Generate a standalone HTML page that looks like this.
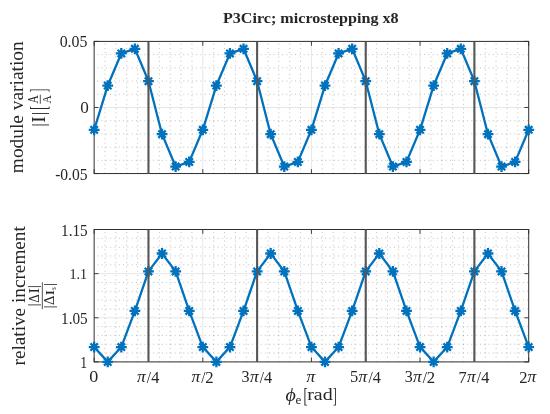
<!DOCTYPE html>
<html><head><meta charset="utf-8"><title>P3Circ; microstepping x8</title>
<style>html,body{margin:0;padding:0;background:#fff}svg{display:block}text{font-family:"Liberation Serif",serif;fill:#262626}.i{font-style:italic}</style></head><body>
<svg width="550" height="414" viewBox="0 0 550 414">
<rect width="550" height="414" fill="#fff"/>
<path d="M105.01 173.65V41.4M115.88 173.65V41.4M126.74 173.65V41.4M137.61 173.65V41.4M159.33 173.65V41.4M170.2 173.65V41.4M181.06 173.65V41.4M191.92 173.65V41.4M213.65 173.65V41.4M224.52 173.65V41.4M235.38 173.65V41.4M246.24 173.65V41.4M267.97 173.65V41.4M278.83 173.65V41.4M289.7 173.65V41.4M300.56 173.65V41.4M322.29 173.65V41.4M333.15 173.65V41.4M344.02 173.65V41.4M354.88 173.65V41.4M376.61 173.65V41.4M387.47 173.65V41.4M398.34 173.65V41.4M409.2 173.65V41.4M430.93 173.65V41.4M441.79 173.65V41.4M452.65 173.65V41.4M463.52 173.65V41.4M485.25 173.65V41.4M496.11 173.65V41.4M506.97 173.65V41.4M517.84 173.65V41.4M97.25 54.61H528.7M97.25 67.83H528.7M97.25 81.05H528.7M97.25 94.26H528.7M97.25 120.69H528.7M97.25 133.91H528.7M97.25 147.12H528.7M97.25 160.34H528.7" stroke="#262626" stroke-opacity="0.36" stroke-width="0.8" stroke-dasharray="1 3.3" fill="none"/>
<path d="M148.47 41.4V173.55M202.79 41.4V173.55M257.11 41.4V173.55M311.43 41.4V173.55M365.74 41.4V173.55M420.06 41.4V173.55M474.38 41.4V173.55M94.15 107.47H528.7" stroke="#262626" stroke-opacity="0.15" stroke-width="0.75" fill="none"/>
<path d="M94.15 173.55v-4.35M94.15 41.4v4.35M148.47 173.55v-4.35M148.47 41.4v4.35M202.79 173.55v-4.35M202.79 41.4v4.35M257.11 173.55v-4.35M257.11 41.4v4.35M311.43 173.55v-4.35M311.43 41.4v4.35M365.74 173.55v-4.35M365.74 41.4v4.35M420.06 173.55v-4.35M420.06 41.4v4.35M474.38 173.55v-4.35M474.38 41.4v4.35M528.7 173.55v-4.35M528.7 41.4v4.35M94.15 107.47h4.35M528.7 107.47h-4.35M94.15 41.4h4.35M528.7 41.4h-4.35M94.15 173.55h4.35M528.7 173.55h-4.35" stroke="#2e2e2e" stroke-width="0.9" fill="none"/>
<rect x="94.15" y="41.4" width="434.55" height="132.15" fill="none" stroke="#2e2e2e" stroke-width="1"/>
<polyline points="94.15,129.81 107.73,85.54 121.31,53.43 134.89,48.8 148.47,81.18 162.05,134.17 175.63,166.55 189.21,161.92 202.79,129.81 216.37,85.54 229.95,53.43 243.53,48.8 257.11,81.18 270.69,134.17 284.27,166.55 297.85,161.92 311.43,129.81 325,85.54 338.58,53.43 352.16,48.8 365.74,81.18 379.32,134.17 392.9,166.55 406.48,161.92 420.06,129.81 433.64,85.54 447.22,53.43 460.8,48.8 474.38,81.18 487.96,134.17 501.54,166.55 515.12,161.92 528.7,129.81" fill="none" stroke="#0072BD" stroke-width="2.3" stroke-linejoin="round"/>
<path d="M88.75 129.81h10.8M94.15 124.41v10.8M90.45 126.11l7.4 7.4M90.45 133.51l7.4 -7.4M102.33 85.54h10.8M107.73 80.14v10.8M104.03 81.84l7.4 7.4M104.03 89.24l7.4 -7.4M115.91 53.43h10.8M121.31 48.03v10.8M117.61 49.73l7.4 7.4M117.61 57.13l7.4 -7.4M129.49 48.8h10.8M134.89 43.4v10.8M131.19 45.1l7.4 7.4M131.19 52.5l7.4 -7.4M143.07 81.18h10.8M148.47 75.78v10.8M144.77 77.48l7.4 7.4M144.77 84.88l7.4 -7.4M156.65 134.17h10.8M162.05 128.77v10.8M158.35 130.47l7.4 7.4M158.35 137.87l7.4 -7.4M170.23 166.55h10.8M175.63 161.15v10.8M171.93 162.85l7.4 7.4M171.93 170.25l7.4 -7.4M183.81 161.92h10.8M189.21 156.52v10.8M185.51 158.22l7.4 7.4M185.51 165.62l7.4 -7.4M197.39 129.81h10.8M202.79 124.41v10.8M199.09 126.11l7.4 7.4M199.09 133.51l7.4 -7.4M210.97 85.54h10.8M216.37 80.14v10.8M212.67 81.84l7.4 7.4M212.67 89.24l7.4 -7.4M224.55 53.43h10.8M229.95 48.03v10.8M226.25 49.73l7.4 7.4M226.25 57.13l7.4 -7.4M238.13 48.8h10.8M243.53 43.4v10.8M239.83 45.1l7.4 7.4M239.83 52.5l7.4 -7.4M251.71 81.18h10.8M257.11 75.78v10.8M253.41 77.48l7.4 7.4M253.41 84.88l7.4 -7.4M265.29 134.17h10.8M270.69 128.77v10.8M266.99 130.47l7.4 7.4M266.99 137.87l7.4 -7.4M278.87 166.55h10.8M284.27 161.15v10.8M280.57 162.85l7.4 7.4M280.57 170.25l7.4 -7.4M292.45 161.92h10.8M297.85 156.52v10.8M294.15 158.22l7.4 7.4M294.15 165.62l7.4 -7.4M306.03 129.81h10.8M311.43 124.41v10.8M307.73 126.11l7.4 7.4M307.73 133.51l7.4 -7.4M319.6 85.54h10.8M325 80.14v10.8M321.3 81.84l7.4 7.4M321.3 89.24l7.4 -7.4M333.18 53.43h10.8M338.58 48.03v10.8M334.88 49.73l7.4 7.4M334.88 57.13l7.4 -7.4M346.76 48.8h10.8M352.16 43.4v10.8M348.46 45.1l7.4 7.4M348.46 52.5l7.4 -7.4M360.34 81.18h10.8M365.74 75.78v10.8M362.04 77.48l7.4 7.4M362.04 84.88l7.4 -7.4M373.92 134.17h10.8M379.32 128.77v10.8M375.62 130.47l7.4 7.4M375.62 137.87l7.4 -7.4M387.5 166.55h10.8M392.9 161.15v10.8M389.2 162.85l7.4 7.4M389.2 170.25l7.4 -7.4M401.08 161.92h10.8M406.48 156.52v10.8M402.78 158.22l7.4 7.4M402.78 165.62l7.4 -7.4M414.66 129.81h10.8M420.06 124.41v10.8M416.36 126.11l7.4 7.4M416.36 133.51l7.4 -7.4M428.24 85.54h10.8M433.64 80.14v10.8M429.94 81.84l7.4 7.4M429.94 89.24l7.4 -7.4M441.82 53.43h10.8M447.22 48.03v10.8M443.52 49.73l7.4 7.4M443.52 57.13l7.4 -7.4M455.4 48.8h10.8M460.8 43.4v10.8M457.1 45.1l7.4 7.4M457.1 52.5l7.4 -7.4M468.98 81.18h10.8M474.38 75.78v10.8M470.68 77.48l7.4 7.4M470.68 84.88l7.4 -7.4M482.56 134.17h10.8M487.96 128.77v10.8M484.26 130.47l7.4 7.4M484.26 137.87l7.4 -7.4M496.14 166.55h10.8M501.54 161.15v10.8M497.84 162.85l7.4 7.4M497.84 170.25l7.4 -7.4M509.72 161.92h10.8M515.12 156.52v10.8M511.42 158.22l7.4 7.4M511.42 165.62l7.4 -7.4M523.3 129.81h10.8M528.7 124.41v10.8M525 126.11l7.4 7.4M525 133.51l7.4 -7.4" fill="none" stroke="#0072BD" stroke-width="2.3"/>
<path d="M148.47 41.4V173.55M257.11 41.4V173.55M365.74 41.4V173.55M474.38 41.4V173.55" stroke="#575757" stroke-width="2.1" fill="none"/>
<path d="M105.01 362V229.5M115.88 362V229.5M126.74 362V229.5M137.61 362V229.5M159.33 362V229.5M170.2 362V229.5M181.06 362V229.5M191.92 362V229.5M213.65 362V229.5M224.52 362V229.5M235.38 362V229.5M246.24 362V229.5M267.97 362V229.5M278.83 362V229.5M289.7 362V229.5M300.56 362V229.5M322.29 362V229.5M333.15 362V229.5M344.02 362V229.5M354.88 362V229.5M376.61 362V229.5M387.47 362V229.5M398.34 362V229.5M409.2 362V229.5M430.93 362V229.5M441.79 362V229.5M452.65 362V229.5M463.52 362V229.5M485.25 362V229.5M496.11 362V229.5M506.97 362V229.5M517.84 362V229.5M97.25 238.33H528.7M97.25 247.15H528.7M97.25 255.98H528.7M97.25 264.81H528.7M97.25 282.46H528.7M97.25 291.29H528.7M97.25 300.11H528.7M97.25 308.94H528.7M97.25 326.59H528.7M97.25 335.42H528.7M97.25 344.25H528.7M97.25 353.07H528.7" stroke="#262626" stroke-opacity="0.36" stroke-width="0.8" stroke-dasharray="1 3.3" fill="none"/>
<path d="M148.47 229.5V361.9M202.79 229.5V361.9M257.11 229.5V361.9M311.43 229.5V361.9M365.74 229.5V361.9M420.06 229.5V361.9M474.38 229.5V361.9M94.15 273.63H528.7M94.15 317.77H528.7" stroke="#262626" stroke-opacity="0.15" stroke-width="0.75" fill="none"/>
<path d="M94.15 361.9v-4.35M94.15 229.5v4.35M148.47 361.9v-4.35M148.47 229.5v4.35M202.79 361.9v-4.35M202.79 229.5v4.35M257.11 361.9v-4.35M257.11 229.5v4.35M311.43 361.9v-4.35M311.43 229.5v4.35M365.74 361.9v-4.35M365.74 229.5v4.35M420.06 361.9v-4.35M420.06 229.5v4.35M474.38 361.9v-4.35M474.38 229.5v4.35M528.7 361.9v-4.35M528.7 229.5v4.35M94.15 273.63h4.35M528.7 273.63h-4.35M94.15 317.77h4.35M528.7 317.77h-4.35M94.15 229.5h4.35M528.7 229.5h-4.35M94.15 361.9h4.35M528.7 361.9h-4.35" stroke="#2e2e2e" stroke-width="0.9" fill="none"/>
<rect x="94.15" y="229.5" width="434.55" height="132.4" fill="none" stroke="#2e2e2e" stroke-width="1"/>
<polyline points="94.15,347.07 107.73,361.9 121.31,347.07 134.89,310.97 148.47,271.43 162.05,253.51 175.63,271.43 189.21,310.97 202.79,347.07 216.37,361.9 229.95,347.07 243.53,310.97 257.11,271.43 270.69,253.51 284.27,271.43 297.85,310.97 311.43,347.07 325,361.9 338.58,347.07 352.16,310.97 365.74,271.43 379.32,253.51 392.9,271.43 406.48,310.97 420.06,347.07 433.64,361.9 447.22,347.07 460.8,310.97 474.38,271.43 487.96,253.51 501.54,271.43 515.12,310.97 528.7,347.07" fill="none" stroke="#0072BD" stroke-width="2.3" stroke-linejoin="round"/>
<path d="M88.75 347.07h10.8M94.15 341.67v10.8M90.45 343.37l7.4 7.4M90.45 350.77l7.4 -7.4M102.33 361.9h10.8M107.73 356.5v10.8M104.03 358.2l7.4 7.4M104.03 365.6l7.4 -7.4M115.91 347.07h10.8M121.31 341.67v10.8M117.61 343.37l7.4 7.4M117.61 350.77l7.4 -7.4M129.49 310.97h10.8M134.89 305.57v10.8M131.19 307.27l7.4 7.4M131.19 314.67l7.4 -7.4M143.07 271.43h10.8M148.47 266.03v10.8M144.77 267.73l7.4 7.4M144.77 275.13l7.4 -7.4M156.65 253.51h10.8M162.05 248.11v10.8M158.35 249.81l7.4 7.4M158.35 257.21l7.4 -7.4M170.23 271.43h10.8M175.63 266.03v10.8M171.93 267.73l7.4 7.4M171.93 275.13l7.4 -7.4M183.81 310.97h10.8M189.21 305.57v10.8M185.51 307.27l7.4 7.4M185.51 314.67l7.4 -7.4M197.39 347.07h10.8M202.79 341.67v10.8M199.09 343.37l7.4 7.4M199.09 350.77l7.4 -7.4M210.97 361.9h10.8M216.37 356.5v10.8M212.67 358.2l7.4 7.4M212.67 365.6l7.4 -7.4M224.55 347.07h10.8M229.95 341.67v10.8M226.25 343.37l7.4 7.4M226.25 350.77l7.4 -7.4M238.13 310.97h10.8M243.53 305.57v10.8M239.83 307.27l7.4 7.4M239.83 314.67l7.4 -7.4M251.71 271.43h10.8M257.11 266.03v10.8M253.41 267.73l7.4 7.4M253.41 275.13l7.4 -7.4M265.29 253.51h10.8M270.69 248.11v10.8M266.99 249.81l7.4 7.4M266.99 257.21l7.4 -7.4M278.87 271.43h10.8M284.27 266.03v10.8M280.57 267.73l7.4 7.4M280.57 275.13l7.4 -7.4M292.45 310.97h10.8M297.85 305.57v10.8M294.15 307.27l7.4 7.4M294.15 314.67l7.4 -7.4M306.03 347.07h10.8M311.43 341.67v10.8M307.73 343.37l7.4 7.4M307.73 350.77l7.4 -7.4M319.6 361.9h10.8M325 356.5v10.8M321.3 358.2l7.4 7.4M321.3 365.6l7.4 -7.4M333.18 347.07h10.8M338.58 341.67v10.8M334.88 343.37l7.4 7.4M334.88 350.77l7.4 -7.4M346.76 310.97h10.8M352.16 305.57v10.8M348.46 307.27l7.4 7.4M348.46 314.67l7.4 -7.4M360.34 271.43h10.8M365.74 266.03v10.8M362.04 267.73l7.4 7.4M362.04 275.13l7.4 -7.4M373.92 253.51h10.8M379.32 248.11v10.8M375.62 249.81l7.4 7.4M375.62 257.21l7.4 -7.4M387.5 271.43h10.8M392.9 266.03v10.8M389.2 267.73l7.4 7.4M389.2 275.13l7.4 -7.4M401.08 310.97h10.8M406.48 305.57v10.8M402.78 307.27l7.4 7.4M402.78 314.67l7.4 -7.4M414.66 347.07h10.8M420.06 341.67v10.8M416.36 343.37l7.4 7.4M416.36 350.77l7.4 -7.4M428.24 361.9h10.8M433.64 356.5v10.8M429.94 358.2l7.4 7.4M429.94 365.6l7.4 -7.4M441.82 347.07h10.8M447.22 341.67v10.8M443.52 343.37l7.4 7.4M443.52 350.77l7.4 -7.4M455.4 310.97h10.8M460.8 305.57v10.8M457.1 307.27l7.4 7.4M457.1 314.67l7.4 -7.4M468.98 271.43h10.8M474.38 266.03v10.8M470.68 267.73l7.4 7.4M470.68 275.13l7.4 -7.4M482.56 253.51h10.8M487.96 248.11v10.8M484.26 249.81l7.4 7.4M484.26 257.21l7.4 -7.4M496.14 271.43h10.8M501.54 266.03v10.8M497.84 267.73l7.4 7.4M497.84 275.13l7.4 -7.4M509.72 310.97h10.8M515.12 305.57v10.8M511.42 307.27l7.4 7.4M511.42 314.67l7.4 -7.4M523.3 347.07h10.8M528.7 341.67v10.8M525 343.37l7.4 7.4M525 350.77l7.4 -7.4" fill="none" stroke="#0072BD" stroke-width="2.3"/>
<path d="M148.47 229.5V361.9M257.11 229.5V361.9M365.74 229.5V361.9M474.38 229.5V361.9" stroke="#575757" stroke-width="2.1" fill="none"/>
<text x="310.8" y="23.1" text-anchor="middle" font-size="15" font-weight="bold" fill="#000" textLength="175.7" lengthAdjust="spacingAndGlyphs">P3Circ; microstepping x8</text>
<text transform="translate(59.66 47.26) scale(0.7949 0.7978)" font-size="20">0.05</text>
<text transform="translate(80.26 113.39) scale(0.8571 0.8148)" font-size="20">0</text>
<text transform="translate(55.15 179.51) scale(0.7786 0.8015)" font-size="20">-0.05</text>
<text transform="translate(61.08 235.56) scale(0.7623 0.7948)" font-size="20">1.15</text>
<text transform="translate(69.53 279.32) scale(0.7045 0.7761)" font-size="20">1.1</text>
<text transform="translate(61.08 323.71) scale(0.7623 0.7941)" font-size="20">1.05</text>
<text transform="translate(80.27 367.55) scale(0.6857 0.7939)" font-size="20">1</text>
<text transform="translate(89.28 382.14) scale(0.9048 0.8222)" font-size="20">0</text>
<text transform="translate(137.01 382.44) scale(0.875 0.8172)" font-size="20" class="i">π</text>
<text transform="translate(146.8 383.22) scale(0.7636 0.8872)" font-size="20">/</text>
<text transform="translate(151.18 382.58) scale(0.8118 0.8154)" font-size="20">4</text>
<text transform="translate(191.41 382.44) scale(0.875 0.8172)" font-size="20" class="i">π</text>
<text transform="translate(201.2 383.22) scale(0.7636 0.8872)" font-size="20">/</text>
<text transform="translate(205.15 382.5) scale(0.8375 0.803)" font-size="20">2</text>
<text transform="translate(241.6 382.34) scale(0.8049 0.791)" font-size="20">3</text>
<text transform="translate(249.91 382.44) scale(0.875 0.8172)" font-size="20" class="i">π</text>
<text transform="translate(259.7 383.22) scale(0.7636 0.8872)" font-size="20">/</text>
<text transform="translate(264.08 382.58) scale(0.8118 0.8154)" font-size="20">4</text>
<text transform="translate(306.41 382.44) scale(0.875 0.8172)" font-size="20" class="i">π</text>
<text transform="translate(350.11 382.34) scale(0.825 0.797)" font-size="20">5</text>
<text transform="translate(358.61 382.44) scale(0.875 0.8172)" font-size="20" class="i">π</text>
<text transform="translate(368.4 383.22) scale(0.7636 0.8872)" font-size="20">/</text>
<text transform="translate(372.78 382.58) scale(0.8118 0.8154)" font-size="20">4</text>
<text transform="translate(404.7 382.34) scale(0.8049 0.791)" font-size="20">3</text>
<text transform="translate(413.01 382.44) scale(0.875 0.8172)" font-size="20" class="i">π</text>
<text transform="translate(422.8 383.22) scale(0.7636 0.8872)" font-size="20">/</text>
<text transform="translate(426.75 382.5) scale(0.8375 0.803)" font-size="20">2</text>
<text transform="translate(458.44 382.58) scale(0.8148 0.8154)" font-size="20">7</text>
<text transform="translate(467.01 382.44) scale(0.875 0.8172)" font-size="20" class="i">π</text>
<text transform="translate(476.8 383.22) scale(0.7636 0.8872)" font-size="20">/</text>
<text transform="translate(481.18 382.58) scale(0.8118 0.8154)" font-size="20">4</text>
<text transform="translate(519.26 382.5) scale(0.825 0.803)" font-size="20">2</text>
<text transform="translate(527.51 382.44) scale(0.875 0.8172)" font-size="20" class="i">π</text>
<text transform="translate(285.5 401.13) scale(1 0.9448)" font-size="20" class="i">ϕ</text>
<text transform="translate(295.57 403.68) scale(0.6622 0.6042)" font-size="20">e</text>
<text transform="translate(303.48 402.22) scale(0.6136 1.0667)" font-size="20">[</text>
<text transform="translate(307.2 400.04) scale(1 0.8071)" font-size="20">rad</text>
<text transform="translate(333.11 402.22) scale(0.5556 1.0667)" font-size="20">]</text>
<text transform="rotate(-90) translate(-173.14 23.27) scale(0.9694 0.8929)" font-size="20">module variation</text>
<text transform="rotate(-90) translate(-365.48 25.07) scale(0.9619 0.8929)" font-size="20">relative increment</text>
<text transform="rotate(-90) translate(-126.8 44.82) scale(0.9 0.9945)" font-size="20">|</text>
<text transform="rotate(-90) translate(-122.69 44.6) scale(0.9811 0.9538)" font-size="20">I</text>
<text transform="rotate(-90) translate(-115.3 44.82) scale(0.9 0.9945)" font-size="20">|</text>
<text transform="rotate(-90) translate(-109.72 46.47) scale(0.5455 1.1212)" font-size="20">[</text>
<text transform="rotate(-90) translate(-103.41 37.6) scale(0.5745 0.6794)" font-size="20">A</text>
<text transform="rotate(-90) translate(-103.41 50.8) scale(0.5745 0.6489)" font-size="20">A</text>
<text transform="rotate(-90) translate(-92.37 46.47) scale(0.5333 1.1212)" font-size="20">]</text>
<path d="M40.3 94.7V103.8" stroke="#262626" stroke-width="0.8" fill="none"/>
<path d="M42.33 282.3V309.2" stroke="#262626" stroke-width="0.8" fill="none"/>
<text transform="rotate(-90) translate(-306.55 38.35) scale(0.8 0.6851)" font-size="20">|</text>
<text transform="rotate(-90) translate(-302.83 38.7) scale(0.6637 0.6947)" font-size="20">Δ</text>
<text transform="rotate(-90) translate(-293.49 38.7) scale(0.8491 0.6769)" font-size="20">I</text>
<text transform="rotate(-90) translate(-288.2 38.35) scale(0.8 0.6851)" font-size="20">|</text>
<text transform="rotate(-90) translate(-308.55 53.68) scale(0.8 0.7017)" font-size="20">|</text>
<text transform="rotate(-90) translate(-305.08 53.5) scale(0.7257 0.6832)" font-size="20">Δ</text>
<text transform="rotate(-90) translate(-295.39 53.5) scale(0.8491 0.6615)" font-size="20">I</text>
<text transform="rotate(-90) translate(-289.85 55.71) scale(0.3175 0.4271)" font-size="20">s</text>
<text transform="rotate(-90) translate(-285.95 53.68) scale(0.8 0.7017)" font-size="20">|</text>
</svg></body></html>
